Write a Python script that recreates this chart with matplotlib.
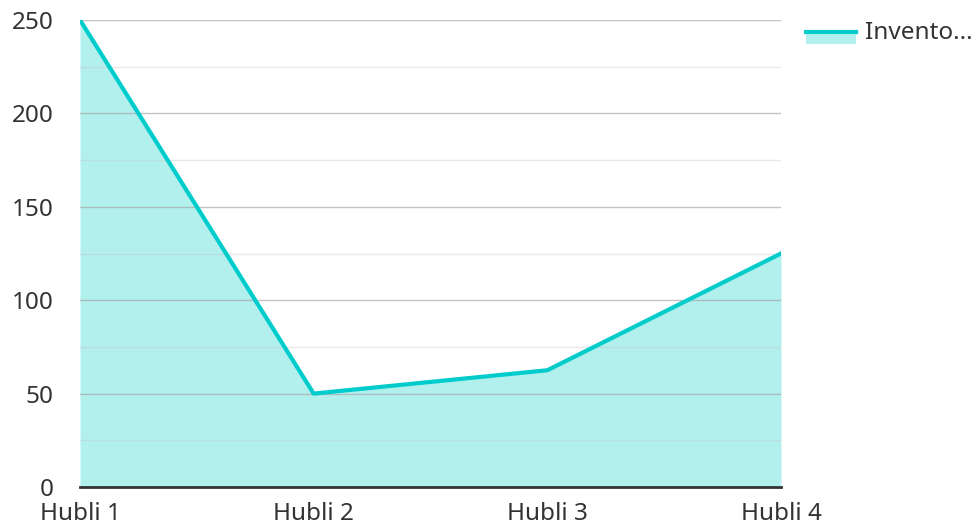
import matplotlib.pyplot as plt
from matplotlib.patches import Rectangle
from matplotlib.lines import Line2D

plt.rcParams['font.family'] = ['Noto Sans', 'DejaVu Sans']

# data
labels = ['Hubli 1', 'Hubli 2', 'Hubli 3', 'Hubli 4']
inventory = [250, 50, 62.5, 125]
series_name = 'Invento...'

lineColor = '#00cccc'
fillColor = '#b2f0ee'
textColor = '#333333'
W, H = 976, 526

fig = plt.figure(figsize=(W/100, H/100), dpi=100)
ax = fig.add_axes([80/W, 39/H, 701/W, 467/H])

x = list(range(len(labels)))
ax.fill_between(x, inventory, 0, color=fillColor, lw=0, zorder=1)
ax.plot(x, inventory, color=lineColor, lw=3, zorder=3)

# gridlines: major every 50, minor every 25
for v in range(25, 251, 25):
    if v % 50 == 0:
        ax.axhline(v, color='#a8a8a8', lw=1, alpha=0.7, zorder=2)
    else:
        ax.axhline(v, color='#c8c8c8', lw=1, alpha=0.4, zorder=2)

ax.set_xlim(0, 3)
ax.set_ylim(0, 250)
ax.set_yticks(range(0, 251, 50))
ax.set_xticks(x)
ax.set_xticklabels(labels)

for s in ['top', 'right', 'left']:
    ax.spines[s].set_visible(False)
ax.spines['bottom'].set_color(textColor)
ax.spines['bottom'].set_linewidth(2)
ax.spines['bottom'].set_zorder(4)
ax.tick_params(axis='both', length=0, labelsize=17.5, colors=textColor)
ax.tick_params(axis='x', pad=10.5)
ax.tick_params(axis='y', pad=19)

# legend drawn by hand: fill band with line on top
fig.add_artist(Rectangle((806/W, 1 - 44/H), 50/W, 11/H, transform=fig.transFigure,
                         facecolor=fillColor, lw=0))
fig.add_artist(Line2D([806/W, 856/W], [1 - 32/H, 1 - 32/H], transform=fig.transFigure,
                      color=lineColor, lw=3))
fig.text(865/W, 1 - 33/H, series_name, fontsize=17.5, color=textColor,
         ha='left', va='center')

fig.savefig('out.png', dpi=100)
